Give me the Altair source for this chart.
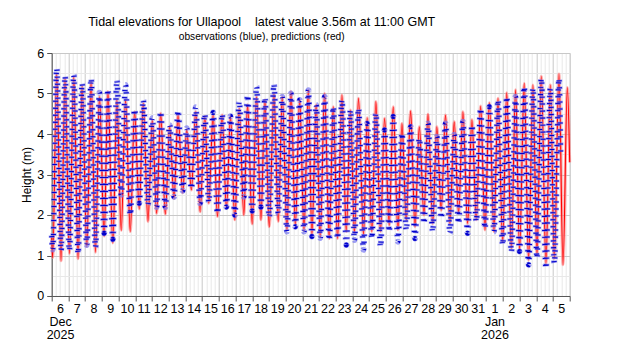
import json
import altair as alt
import pandas as pd

# time in days since 2025-12-06 00:00 GMT, heights in metres
pred_t = [0.00, 0.06, 0.30, 0.56, 0.80, 1.06, 1.32, 1.58, 1.82, 2.10, 2.36, 2.62, 2.86, 3.14, 3.36,
          3.66, 3.90, 4.16, 4.42, 4.70, 4.96, 5.24, 5.48, 5.76, 6.02, 6.28, 6.52, 6.80, 7.06, 7.32,
          7.56, 7.84, 8.08, 8.36, 8.62, 8.88, 9.16, 9.40, 9.66, 9.92, 10.20, 10.46, 10.70, 10.96,
          11.22, 11.50, 11.72, 12.00, 12.26, 12.52, 12.76, 13.02, 13.30, 13.56, 13.80, 14.08, 14.32,
          14.58, 14.84, 15.10, 15.36, 15.57, 15.83, 16.07, 16.33, 16.61, 16.85, 17.11, 17.37, 17.63,
          17.88, 18.12, 18.36, 18.66, 18.88, 19.16, 19.40, 19.68, 19.92, 20.20, 20.44, 20.72, 20.96,
          21.22, 21.48, 21.74, 22.00, 22.28, 22.52, 22.80, 23.05, 23.31, 23.57, 23.83, 24.09, 24.35,
          24.61, 24.89, 25.15, 25.41, 25.67, 25.93, 26.19, 26.47, 26.71, 26.99, 27.23, 27.51, 27.76,
          28.00, 28.28, 28.54, 28.80, 29.04, 29.30, 29.58, 29.84, 30.08, 30.36, 30.60, 30.86, 31.00]
pred_h = [1.45, 0.95, 5.48, 0.87, 5.37, 1.05, 5.40, 0.92, 5.17, 1.22, 5.29, 1.08, 4.92, 1.48, 5.05,
          1.31, 4.84, 1.62, 4.84, 1.59, 4.55, 2.15, 4.76, 1.84, 4.33, 2.04, 4.51, 2.02, 4.18, 2.41,
          4.47, 2.55, 4.10, 2.62, 4.55, 2.08, 4.43, 2.29, 4.47, 1.96, 4.47, 2.16, 4.43, 1.88,
          4.63, 2.00, 4.72, 1.78, 4.92, 1.88, 4.84, 1.71, 5.00, 1.84, 4.92, 1.63, 5.05,
          1.75, 4.84, 1.63, 5.08, 1.51, 4.72, 1.47, 5.00, 1.42, 4.67, 1.42, 4.96, 1.59,
          4.59, 1.55, 4.88, 1.51, 4.40, 1.59, 4.80, 1.59, 4.39, 1.75, 4.67, 1.63, 4.26,
          1.88, 4.57, 1.71, 4.18, 2.00, 4.49, 1.79, 4.18, 2.12, 4.47, 1.79, 4.30, 2.04,
          4.55, 1.79, 4.35, 1.88, 4.69, 1.63, 4.77, 1.59, 4.88, 1.34, 5.02, 1.18, 5.09,
          1.14, 5.25, 0.89, 5.21, 1.01, 5.42, 0.81, 5.21, 0.93, 5.48, 0.77, 5.15, 3.30]

obs_t = pred_t[:119] + [30.458]
obs_h = [1.50, 1.15, 5.62, 1.12, 5.43, 1.12, 5.46, 1.04, 5.25, 1.26, 5.37, 1.20, 5.02, 1.55, 5.10,
         1.40, 5.33, 2.50, 5.21, 2.00, 4.61, 2.29, 4.84, 2.25, 4.39, 2.20, 4.55, 2.20, 4.22, 2.45,
         4.58, 2.60, 4.14, 2.65, 4.66, 2.29, 4.49, 2.32, 4.53, 2.04, 4.49, 2.20, 4.44, 2.00,
         4.80, 2.45, 4.96, 2.10, 5.17, 2.20, 4.90, 1.95, 5.23, 2.04, 4.92, 1.59, 5.00,
         1.71, 4.84, 1.59, 5.08, 1.47, 4.72, 1.43, 4.92, 1.38, 4.67, 1.42, 4.84, 1.26,
         4.59, 1.38, 4.63, 1.14, 4.26, 1.42, 4.51, 1.22, 4.10, 1.59, 4.43, 1.34, 4.02,
         1.63, 4.18, 1.42, 3.89, 1.79, 4.26, 1.59, 3.93, 1.92, 4.26, 1.55, 3.98, 1.79,
         4.30, 1.55, 4.22, 1.84, 4.63, 1.67, 4.67, 1.59, 4.84, 1.26, 4.92, 1.09, 4.92,
         1.10, 5.17, 0.77, 5.13, 0.93, 5.37, 0.68, 5.13, 0.81, 5.37, 3.56]

day_labels = ["6", "7", "8", "9", "10", "11", "12", "13", "14", "15", "16", "17", "18", "19",
              "20", "21", "22", "23", "24", "25", "26", "27", "28", "29", "30", "31",
              "1", "2", "3", "4", "5"]
month_labels = {0: ["Dec", "2025"], 26: ["Jan", "2026"]}

pred = pd.DataFrame({"t": pred_t, "h": pred_h})
obs = pd.DataFrame({"t": obs_t, "h": obs_h})

FONT = "Liberation Sans"
x_vals = [i * 0.25 for i in range(0, 125)]
y_vals = [i * 0.5 for i in range(13)]

lab = json.dumps(day_labels)
m_expr = " : ".join(
    f"floor(datum.value)=={k} ? {json.dumps([day_labels[k]] + v)}" for k, v in month_labels.items()
)
label_expr = f"(datum.value % 1 == 0.5) ? ({m_expr} : {lab}[floor(datum.value)]) : ''"

xaxis = alt.Axis(
    values=x_vals, labelExpr=label_expr, title=None, grid=True,
    gridColor={"condition": {"test": "datum.value % 1 == 0", "value": "#c8c8c8"}, "value": "#e8e8e8"},
    tickOpacity={"condition": {"test": "datum.value % 1 == 0", "value": 1}, "value": 0},
    tickSize=5, tickColor="#555555", domainColor="#555555",
    labelFont=FONT, labelFontSize=12.5, labelColor="black", labelOverlap=False,
    labelFlush=False, labelPadding=2, labelLineHeight=13,
)
yaxis = alt.Axis(
    values=y_vals, title="Height (m)", grid=True,
    labelExpr="datum.value % 1 == 0 ? format(datum.value, 'd') : ''",
    gridColor={"condition": {"test": "datum.value % 1 == 0", "value": "#c8c8c8"}, "value": "#e8e8e8"},
    tickOpacity={"condition": {"test": "datum.value % 1 == 0", "value": 1}, "value": 0},
    tickSize=5, tickColor="#555555", domainColor="#555555",
    labelFont=FONT, labelFontSize=12.5, labelColor="black", labelPadding=3,
    titleFont=FONT, titleFontSize=12, titleFontWeight="normal", titleColor="black", titlePadding=3,
)

X = alt.X("t:Q", scale=alt.Scale(domain=[0, 31], nice=False, zero=False), axis=xaxis)
Y = alt.Y("h:Q", scale=alt.Scale(domain=[0, 6], nice=False), axis=yaxis)

pink = alt.Chart(pred).mark_line(color="#ff8080", strokeWidth=3, opacity=0.6,
                                 interpolate="monotone").encode(x=X, y=Y)
red = alt.Chart(pred).mark_line(color="#ff0000", strokeWidth=1.1,
                                interpolate="monotone").encode(x=X, y=Y)
halo = alt.Chart(obs).mark_line(color="#7878f0", strokeWidth=6, opacity=0.7,
                                strokeDash=[2.5, 4.5], interpolate="monotone").encode(x=X, y=Y)
dark = alt.Chart(obs).mark_line(color="#0000cc", strokeWidth=5, strokeDash=[1, 6],
                                strokeDashOffset=-0.75, interpolate="monotone").encode(x=X, y=Y)

chart = alt.layer(pink, red, halo, dark).properties(
    width=518, height=243,
    padding={"left": 43.7, "top": 45, "right": 40, "bottom": 46},
    autosize=alt.AutoSizeParams(type="none"),
    title=alt.TitleParams(
        text="Tidal elevations for Ullapool\u00a0\u00a0\u00a0\u00a0latest value 3.56m at 11:00 GMT",
        subtitle="observations (blue), predictions (red)",
        font=FONT, fontSize=12.5, fontWeight="normal", color="black",
        subtitleFont=FONT, subtitleFontSize=10.2, subtitleColor="black", subtitlePadding=3,
        anchor="middle", frame="group", dx=-49, offset=5,
    ),
).configure_view(strokeWidth=0).configure(background="white")

chart.save("out.html", embed_options={"renderer": "svg", "actions": False})
